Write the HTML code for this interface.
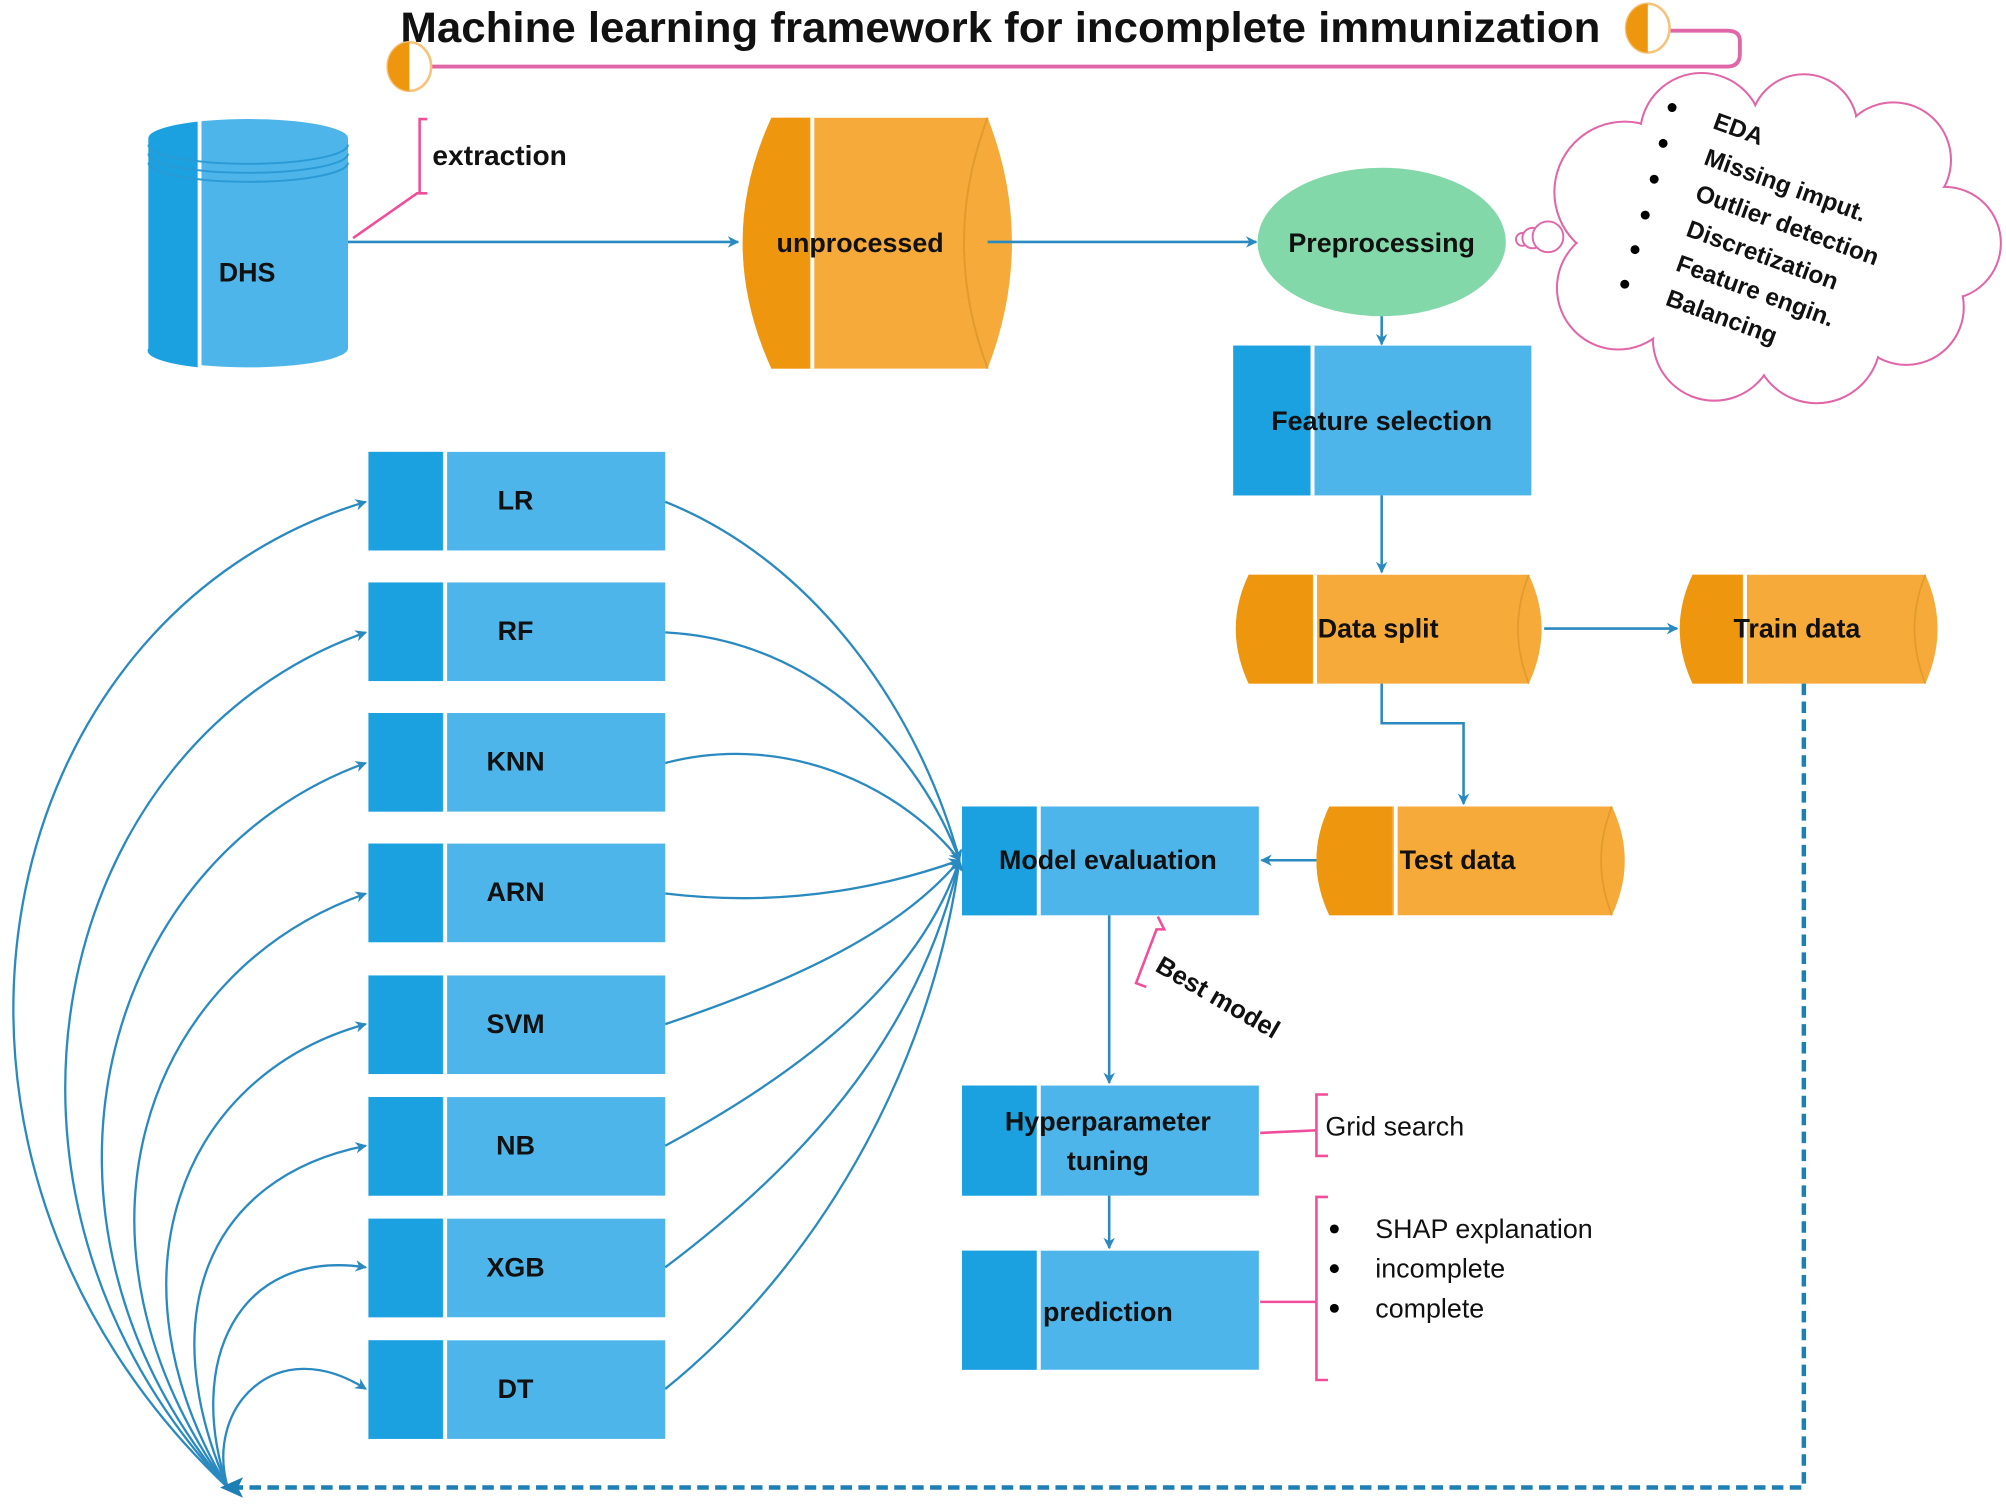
<!DOCTYPE html>
<html><head><meta charset="utf-8"><style>
html,body{margin:0;padding:0;background:#fff;}
svg{display:block;}
text{font-family:"Liberation Sans",sans-serif;font-weight:bold;fill:#111;}
</style></head><body>
<svg width="2006" height="1508" viewBox="0 0 1568 1178" preserveAspectRatio="none" xmlns="http://www.w3.org/2000/svg">
<defs>
<marker id="ar2" viewBox="0 0 10 10" refX="9" refY="5" markerWidth="9" markerHeight="9" orient="auto" markerUnits="userSpaceOnUse"><path d="M0,0 L10,5 L0,10 L3,5 z" fill="#2a8ac0"/></marker>
</defs>

<!-- Title -->
<path d="M322,52 L1350,52 Q1360,52 1360,42 L1360,32 Q1360,24 1350,24 L1305,24" fill="none" stroke="#e066a8" stroke-width="3"/>
<text x="313" y="33" font-size="33" textLength="938" lengthAdjust="spacingAndGlyphs">Machine learning framework for incomplete immunization</text>
<ellipse cx="320" cy="52" rx="17" ry="19" fill="#fff" stroke="#f5c37a" stroke-width="2"/>
<path d="M320,33 A17,19 0 0 0 320,71 Z" fill="#ef960f"/>
<ellipse cx="1288" cy="22" rx="17" ry="19" fill="#fff" stroke="#f5c37a" stroke-width="2"/>
<path d="M1288,3 A17,19 0 0 0 1288,41 Z" fill="#ef960f"/>

<!-- DHS cylinder -->
<path d="M116,108 A78,15 0 0 1 272,108 L272,272 A78,15 0 0 1 116,272 Z" fill="#4db5ea"/>
<path d="M116,108 A78,15 0 0 1 155,95 L155,287 A78,15 0 0 1 116,272 Z" fill="#1ba0e0"/>
<line x1="156" y1="94" x2="156" y2="288" stroke="#fff" stroke-width="3"/>
<path d="M116,113 A78,15 0 0 0 272,113 M116,120 A78,15 0 0 0 272,120 M116,127 A78,15 0 0 0 272,127" fill="none" stroke="#2a9ad6" stroke-width="1.5"/>
<text x="171" y="220" font-size="21">DHS</text>

<!-- extraction -->
<path d="M276,186 L326,151 L334,151 M334,93 L328,93 L328,151" fill="none" stroke="#f04d9a" stroke-width="2"/>
<text x="338" y="129" font-size="22">extraction</text>
<line x1="272" y1="189" x2="577" y2="189" stroke="#2a8ac0" stroke-width="2" marker-end="url(#ar2)"/>

<!-- unprocessed -->
<path d="M603,92 L772,92 Q810,189 772,288 L603,288 Q558,189 603,92 Z" fill="#f5aa3a"/>
<path d="M603,92 L633,92 L633,288 L603,288 Q558,189 603,92 Z" fill="#ef960f"/>
<line x1="635" y1="92" x2="635" y2="288" stroke="#fff" stroke-width="3"/>
<path d="M772,92 Q735,189 772,288" fill="none" stroke="#e09a2e" stroke-width="1.5"/>
<text x="607" y="197" font-size="21">unprocessed</text>
<line x1="772" y1="189" x2="982" y2="189" stroke="#2a8ac0" stroke-width="2" marker-end="url(#ar2)"/>

<!-- Preprocessing -->
<ellipse cx="1080" cy="189" rx="97" ry="58" fill="#82d8a8"/>
<text x="1080" y="197" font-size="21" text-anchor="middle">Preprocessing</text>

<!-- Cloud -->
<g stroke="#e066a8" stroke-width="1.5" fill="#fff">
<circle cx="1190" cy="187" r="5"/><circle cx="1198" cy="186" r="8"/><circle cx="1210" cy="185" r="12"/>
</g>
<g stroke="#e066a8" stroke-width="1.6" fill="#fff">
<circle cx="1270" cy="150" r="55"/><circle cx="1330" cy="105" r="48"/><circle cx="1410" cy="100" r="42"/>
<circle cx="1480" cy="125" r="45"/><circle cx="1520" cy="190" r="44"/><circle cx="1490" cy="240" r="45"/>
<circle cx="1420" cy="265" r="50"/><circle cx="1340" cy="265" r="48"/><circle cx="1265" cy="225" r="48"/>
</g>
<g fill="#fff">
<circle cx="1270" cy="150" r="54"/><circle cx="1330" cy="105" r="47"/><circle cx="1410" cy="100" r="41"/>
<circle cx="1480" cy="125" r="44"/><circle cx="1520" cy="190" r="43"/><circle cx="1490" cy="240" r="44"/>
<circle cx="1420" cy="265" r="49"/><circle cx="1340" cy="265" r="47"/><circle cx="1265" cy="225" r="47"/>
<ellipse cx="1390" cy="185" rx="140" ry="80"/>
</g>
<g font-size="19">
<circle cx="1307" cy="84" r="3.5" fill="#000"/><text transform="translate(1338,100) rotate(20)">EDA</text>
<circle cx="1300" cy="112" r="3.5" fill="#000"/><text transform="translate(1331,128) rotate(20)">Missing imput.</text>
<circle cx="1293" cy="140" r="3.5" fill="#000"/><text transform="translate(1324,156) rotate(20)">Outlier detection</text>
<circle cx="1286" cy="168" r="3.5" fill="#000"/><text transform="translate(1317,184) rotate(20)">Discretization</text>
<circle cx="1278" cy="195" r="3.5" fill="#000"/><text transform="translate(1309,211) rotate(20)">Feature engin.</text>
<circle cx="1270" cy="222" r="3.5" fill="#000"/><text transform="translate(1301,238) rotate(20)">Balancing</text>
</g>

<line x1="1080" y1="247" x2="1080" y2="269" stroke="#2a8ac0" stroke-width="2" marker-end="url(#ar2)"/>

<!-- Feature selection -->
<rect x="964" y="270" width="233" height="117" fill="#4db5ea"/>
<rect x="964" y="270" width="60" height="117" fill="#1ba0e0"/>
<line x1="1026" y1="270" x2="1026" y2="387" stroke="#fff" stroke-width="3"/>
<text x="1080" y="336" font-size="21" text-anchor="middle">Feature selection</text>
<line x1="1080" y1="387" x2="1080" y2="447" stroke="#2a8ac0" stroke-width="2" marker-end="url(#ar2)"/>

<!-- Data split -->
<path d="M976,449 L1195,449 Q1215,491 1195,534 L976,534 Q956,491 976,449 Z" fill="#f5aa3a"/>
<path d="M976,449 L1026,449 L1026,534 L976,534 Q956,491 976,449 Z" fill="#ef960f"/>
<line x1="1028" y1="449" x2="1028" y2="534" stroke="#fff" stroke-width="3"/>
<path d="M1195,449 Q1178,491 1195,534" fill="none" stroke="#e09a2e" stroke-width="1.3"/>
<text x="1030" y="498" font-size="21">Data split</text>
<line x1="1207" y1="491" x2="1311" y2="491" stroke="#2a8ac0" stroke-width="2" marker-end="url(#ar2)"/>

<!-- Train data -->
<path d="M1323,449 L1505,449 Q1524,491 1505,534 L1323,534 Q1303,491 1323,449 Z" fill="#f5aa3a"/>
<path d="M1323,449 L1362,449 L1362,534 L1323,534 Q1303,491 1323,449 Z" fill="#ef960f"/>
<line x1="1364" y1="449" x2="1364" y2="534" stroke="#fff" stroke-width="3"/>
<path d="M1505,449 Q1488,491 1505,534" fill="none" stroke="#e09a2e" stroke-width="1.3"/>
<text x="1355" y="498" font-size="21">Train data</text>

<!-- split -> test -->
<path d="M1080,534 L1080,565 L1144,565 L1144,628" fill="none" stroke="#2a8ac0" stroke-width="2" marker-end="url(#ar2)"/>

<!-- Test data -->
<path d="M1039,630 L1260,630 Q1280,672 1260,715 L1039,715 Q1019,672 1039,630 Z" fill="#f5aa3a"/>
<path d="M1039,630 L1088,630 L1088,715 L1039,715 Q1019,672 1039,630 Z" fill="#ef960f"/>
<line x1="1091" y1="630" x2="1091" y2="715" stroke="#fff" stroke-width="3"/>
<path d="M1260,630 Q1243,672 1260,715" fill="none" stroke="#e09a2e" stroke-width="1.3"/>
<text x="1094" y="679" font-size="21">Test data</text>
<line x1="1029" y1="672" x2="986" y2="672" stroke="#2a8ac0" stroke-width="2" marker-end="url(#ar2)"/>

<!-- Model evaluation -->
<rect x="752" y="630" width="232" height="85" fill="#4db5ea"/>
<rect x="752" y="630" width="58" height="85" fill="#1ba0e0"/>
<line x1="812" y1="630" x2="812" y2="715" stroke="#fff" stroke-width="3"/>
<text x="866" y="679" font-size="21" text-anchor="middle">Model evaluation</text>
<line x1="867" y1="715" x2="867" y2="846" stroke="#2a8ac0" stroke-width="2" marker-end="url(#ar2)"/>

<!-- Best model -->
<path d="M905,716 L910,726 L904,726 L888,768 L896,771" fill="none" stroke="#f04d9a" stroke-width="2"/>
<text transform="translate(902,758) rotate(30)" font-size="20">Best model</text>

<!-- Hyperparameter -->
<rect x="752" y="848" width="232" height="86" fill="#4db5ea"/>
<rect x="752" y="848" width="58" height="86" fill="#1ba0e0"/>
<line x1="812" y1="848" x2="812" y2="934" stroke="#fff" stroke-width="3"/>
<text x="866" y="883" font-size="21" text-anchor="middle">Hyperparameter</text>
<text x="866" y="914" font-size="21" text-anchor="middle">tuning</text>
<path d="M985,885 L1028,883 M1038,855 L1029,855 L1029,903 L1038,903" fill="none" stroke="#f04d9a" stroke-width="2"/>
<text x="1036" y="887" font-size="21" style="font-weight:normal">Grid search</text>
<line x1="867" y1="934" x2="867" y2="975" stroke="#2a8ac0" stroke-width="2" marker-end="url(#ar2)"/>

<!-- prediction -->
<rect x="752" y="977" width="232" height="93" fill="#4db5ea"/>
<rect x="752" y="977" width="58" height="93" fill="#1ba0e0"/>
<line x1="812" y1="977" x2="812" y2="1070" stroke="#fff" stroke-width="3"/>
<text x="866" y="1032" font-size="21" text-anchor="middle">prediction</text>
<path d="M985,1017 L1029,1017 M1038,935 L1029,935 L1029,1078 L1038,1078" fill="none" stroke="#f04d9a" stroke-width="2"/>
<g font-size="21">
<circle cx="1043" cy="960" r="3.5" fill="#000"/><text x="1075" y="967" style="font-weight:normal">SHAP explanation</text>
<circle cx="1043" cy="991" r="3.5" fill="#000"/><text x="1075" y="998" style="font-weight:normal">incomplete</text>
<circle cx="1043" cy="1022" r="3.5" fill="#000"/><text x="1075" y="1029" style="font-weight:normal">complete</text>
</g>

<!-- Model boxes -->
<g font-size="21">
<rect x="288" y="353" width="232" height="77" fill="#4db5ea"/><rect x="288" y="353" width="58" height="77" fill="#1ba0e0"/><line x1="348" y1="353" x2="348" y2="430" stroke="#fff" stroke-width="3"/><text x="403" y="398" text-anchor="middle">LR</text>
<rect x="288" y="455" width="232" height="77" fill="#4db5ea"/><rect x="288" y="455" width="58" height="77" fill="#1ba0e0"/><line x1="348" y1="455" x2="348" y2="532" stroke="#fff" stroke-width="3"/><text x="403" y="500" text-anchor="middle">RF</text>
<rect x="288" y="557" width="232" height="77" fill="#4db5ea"/><rect x="288" y="557" width="58" height="77" fill="#1ba0e0"/><line x1="348" y1="557" x2="348" y2="634" stroke="#fff" stroke-width="3"/><text x="403" y="602" text-anchor="middle">KNN</text>
<rect x="288" y="659" width="232" height="77" fill="#4db5ea"/><rect x="288" y="659" width="58" height="77" fill="#1ba0e0"/><line x1="348" y1="659" x2="348" y2="736" stroke="#fff" stroke-width="3"/><text x="403" y="704" text-anchor="middle">ARN</text>
<rect x="288" y="762" width="232" height="77" fill="#4db5ea"/><rect x="288" y="762" width="58" height="77" fill="#1ba0e0"/><line x1="348" y1="762" x2="348" y2="839" stroke="#fff" stroke-width="3"/><text x="403" y="807" text-anchor="middle">SVM</text>
<rect x="288" y="857" width="232" height="77" fill="#4db5ea"/><rect x="288" y="857" width="58" height="77" fill="#1ba0e0"/><line x1="348" y1="857" x2="348" y2="934" stroke="#fff" stroke-width="3"/><text x="403" y="902" text-anchor="middle">NB</text>
<rect x="288" y="952" width="232" height="77" fill="#4db5ea"/><rect x="288" y="952" width="58" height="77" fill="#1ba0e0"/><line x1="348" y1="952" x2="348" y2="1029" stroke="#fff" stroke-width="3"/><text x="403" y="997" text-anchor="middle">XGB</text>
<rect x="288" y="1047" width="232" height="77" fill="#4db5ea"/><rect x="288" y="1047" width="58" height="77" fill="#1ba0e0"/><line x1="348" y1="1047" x2="348" y2="1124" stroke="#fff" stroke-width="3"/><text x="403" y="1092" text-anchor="middle">DT</text>
</g>

<!-- right curves to model evaluation -->
<g fill="none" stroke="#2a8ac0" stroke-width="1.8">
<path d="M520,392 C640,440 720,560 750,672" marker-end="url(#ar2)"/>
<path d="M520,494 C640,500 720,590 750,672" marker-end="url(#ar2)"/>
<path d="M520,596 C620,570 710,620 750,672" marker-end="url(#ar2)"/>
<path d="M520,698 C620,710 700,690 750,672" marker-end="url(#ar2)"/>
<path d="M520,800 C640,760 710,720 750,672" marker-end="url(#ar2)"/>
<path d="M520,895 C640,830 720,760 750,672" marker-end="url(#ar2)"/>
<path d="M520,990 C640,900 720,800 750,672" marker-end="url(#ar2)"/>
<path d="M520,1085 C650,980 730,820 750,672" marker-end="url(#ar2)"/>
</g>

<!-- left curves from convergence -->
<g fill="none" stroke="#2a8ac0" stroke-width="1.8">
<path d="M178,1162 C-100,900 -10,480 286,392" marker-end="url(#ar2)"/>
<path d="M178,1162 C-40,930 40,580 286,494" marker-end="url(#ar2)"/>
<path d="M178,1162 C0,950 80,670 286,596" marker-end="url(#ar2)"/>
<path d="M178,1162 C40,970 110,760 286,698" marker-end="url(#ar2)"/>
<path d="M178,1162 C80,1000 140,840 286,800" marker-end="url(#ar2)"/>
<path d="M178,1162 C120,1030 160,920 286,895" marker-end="url(#ar2)"/>
<path d="M178,1162 C145,1065 185,975 286,990" marker-end="url(#ar2)"/>
<path d="M178,1162 C160,1100 215,1040 286,1085" marker-end="url(#ar2)"/>
</g>

<!-- dashed feedback -->
<path d="M1410,534 L1410,1162 L184,1162" fill="none" stroke="#1e7fb4" stroke-width="3.5" stroke-dasharray="9,5"/>
<path d="M172,1162 L190,1154 L186,1162 L190,1170 Z" fill="#1e7fb4"/>
</svg>
</body></html>
